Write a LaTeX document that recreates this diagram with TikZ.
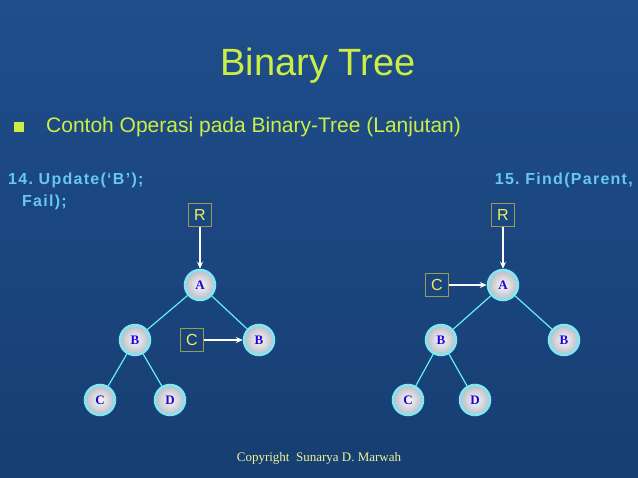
\documentclass[tikz,border=0pt]{standalone}
\usepackage{fontspec}
\setmainfont{Liberation Sans}
\newfontfamily\serifff{Liberation Serif}
\usetikzlibrary{arrows.meta}
\definecolor{bgtop}{HTML}{1F4E8C}
\definecolor{bgbot}{HTML}{163E72}
\definecolor{ttl}{HTML}{CCEE44}
\definecolor{lbl}{HTML}{66C8F0}
\definecolor{nodefill}{HTML}{C8CCD8}
\definecolor{ring}{HTML}{7FE8F4}
\definecolor{boxc}{HTML}{9A9A50}
\definecolor{yel}{HTML}{EEEE66}
\begin{document}
\begin{tikzpicture}[x=1pt,y=-1pt,
  tn/.style={circle,draw=ring,line width=2.5pt,inner color=white!85!nodefill,outer color=nodefill!80!gray,minimum size=30pt,inner sep=0pt,font=\serifff\bfseries\fontsize{13}{15}\selectfont,text=blue!70!violet},
  pb/.style={draw=boxc,line width=1pt,minimum width=23pt,minimum height=23pt,inner sep=0pt,text=yel,font=\fontsize{16}{18}\selectfont},
  edge/.style={draw=ring!80!cyan,line width=1.2pt},
  ptr/.style={draw=white,line width=1.4pt,-{Stealth[length=7pt,width=6pt]}},
  lab/.style={text=lbl,font=\bfseries\fontsize{16}{20}\selectfont,anchor=west,inner sep=0pt}]
\fill[top color=bgtop,bottom color=bgbot] (0,0) rectangle (638,478);
\useasboundingbox (0,0) rectangle (638,478);
\node[text=ttl,font=\fontsize{38}{42}\selectfont] (title) at (318,66) {Binary Tree};
\node[text=ttl,anchor=west,font=\fontsize{21}{24}\selectfont,inner sep=0pt] (bul) at (14,127) {\rule{10pt}{10pt}\hspace{22pt}Contoh Operasi pada Binary-Tree (Lanjutan)};
\node[lab] (l14) at (8,180) {\addfontfeature{LetterSpace=8}14.\ Update(‘B’);};
\node[lab] (l14b) at (22,202) {\addfontfeature{LetterSpace=8}Fail);};
\node[lab,anchor=east] (l15) at (633,180) {\addfontfeature{LetterSpace=8}15.\ Find(Parent,};
% left tree
\node[pb] (R1) at (200,215) {R};
\node[tn] (A1) at (200,285) {A};
\node[tn] (B1) at (135,340) {B};
\node[tn] (B2) at (259,340) {B};
\node[tn] (C1) at (100,400) {C};
\node[tn] (D1) at (170,400) {D};
\node[pb] (Cb1) at (192,340) {C};
\draw[edge] (A1) -- (B1); \draw[edge] (A1) -- (B2);
\draw[edge] (B1) -- (C1); \draw[edge] (B1) -- (D1);
\draw[ptr] (R1) -- (A1); \draw[ptr] (Cb1) -- (B2);
% right tree
\node[pb] (R2) at (503,215) {R};
\node[tn] (A2) at (503,285) {A};
\node[tn] (B3) at (441,340) {B};
\node[tn] (B4) at (564,340) {B};
\node[tn] (C2) at (408,400) {C};
\node[tn] (D2) at (475,400) {D};
\node[pb] (Cb2) at (437,285) {C};
\draw[edge] (A2) -- (B3); \draw[edge] (A2) -- (B4);
\draw[edge] (B3) -- (C2); \draw[edge] (B3) -- (D2);
\draw[ptr] (R2) -- (A2); \draw[ptr] (Cb2) -- (A2);
\node[text=yel!70!white,font=\serifff\fontsize{13}{15}\selectfont] (foot) at (319,458) {Copyright\ \ Sunarya D. Marwah};
\end{tikzpicture}
\end{document}
